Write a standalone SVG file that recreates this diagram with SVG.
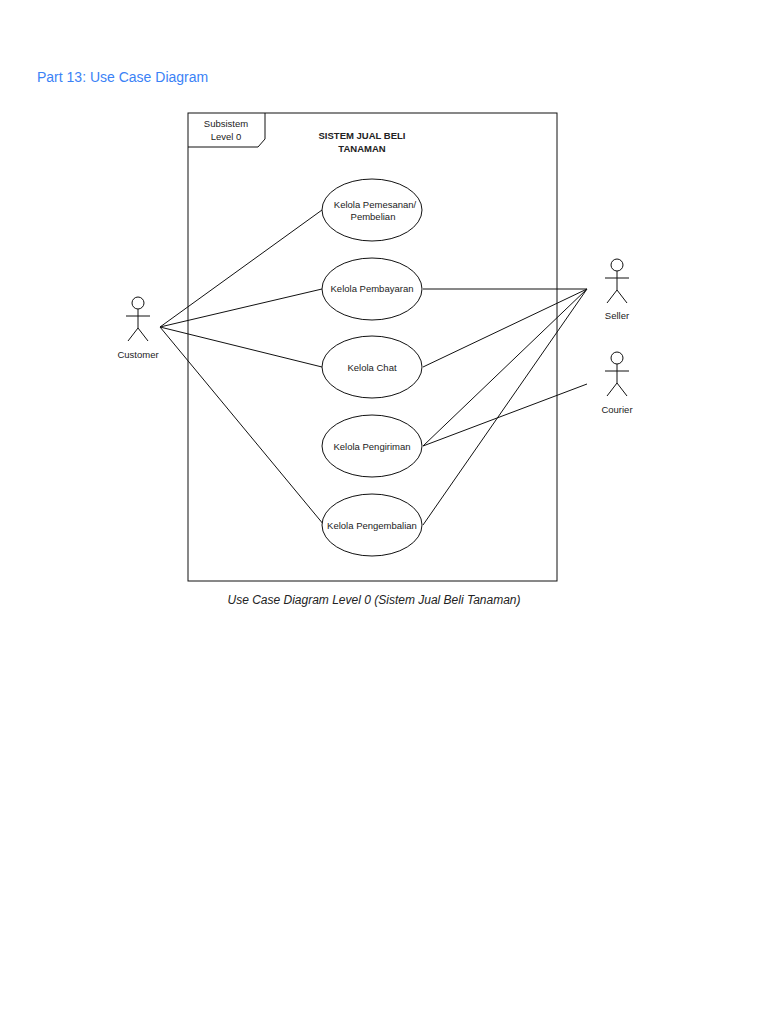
<svg xmlns="http://www.w3.org/2000/svg" width="768" height="1024" viewBox="0 0 768 1024">
<style>
text{font-family:"Liberation Sans",Arial,sans-serif;fill:#222}
.s{font-size:9.5px}
.ln{stroke:#111;stroke-width:1;fill:none}
.uc{fill:#fff;stroke:#111;stroke-width:1}
</style>
<rect width="768" height="1024" fill="#fff"/>
<text x="37" y="82" style="font-size:14px;fill:#3b82f6">Part 13: Use Case Diagram</text>
<g id="system">
<rect x="188" y="113" width="369" height="468" class="ln"/>
<path d="M188 147 H258 L265 139 V113" class="ln"/>
<text x="226" y="127" text-anchor="middle" class="s">Subsistem</text>
<text x="226" y="140" text-anchor="middle" class="s">Level 0</text>
<text x="362" y="139" text-anchor="middle" class="s" font-weight="bold">SISTEM JUAL BELI</text>
<text x="362" y="152" text-anchor="middle" class="s" font-weight="bold">TANAMAN</text>
</g>
<g id="connectors" class="ln">
<line x1="160" y1="327" x2="322" y2="210"/>
<line x1="160" y1="327" x2="322" y2="289"/>
<line x1="160" y1="327" x2="322" y2="367"/>
<line x1="160" y1="327" x2="324" y2="525"/>
<line x1="587" y1="289" x2="423" y2="289"/>
<line x1="587" y1="289" x2="423" y2="367"/>
<line x1="587" y1="289" x2="423" y2="446"/>
<line x1="587" y1="289" x2="423" y2="525"/>
<line x1="587" y1="384" x2="423" y2="446"/>
</g>
<g id="uc1"><ellipse cx="372" cy="210" rx="50" ry="31" class="uc"/><text x="375" y="208" text-anchor="middle" class="s">Kelola Pemesanan/</text><text x="373" y="220" text-anchor="middle" class="s">Pembelian</text></g>
<g id="uc2"><ellipse cx="372" cy="289" rx="50" ry="31" class="uc"/><text x="372" y="292" text-anchor="middle" class="s">Kelola Pembayaran</text></g>
<g id="uc3"><ellipse cx="372" cy="367" rx="50" ry="31" class="uc"/><text x="372" y="371" text-anchor="middle" class="s">Kelola Chat</text></g>
<g id="uc4"><ellipse cx="372" cy="446" rx="50" ry="31" class="uc"/><text x="372" y="450" text-anchor="middle" class="s">Kelola Pengiriman</text></g>
<g id="uc5"><ellipse cx="372" cy="525" rx="50" ry="31" class="uc"/><text x="372" y="529" text-anchor="middle" class="s">Kelola Pengembalian</text></g>
<g id="customer" class="ln"><circle cx="138" cy="303" r="6"/><path d="M138 309 V328 M126 316 H150 M138 328 L128 341 M138 328 L148 341"/><text x="138" y="358" text-anchor="middle" class="s" stroke="none">Customer</text></g>
<g id="seller" class="ln"><circle cx="617" cy="265" r="6"/><path d="M617 271 V290 M605 278 H629 M617 290 L607 303 M617 290 L627 303"/><text x="617" y="319" text-anchor="middle" class="s" stroke="none">Seller</text></g>
<g id="courier" class="ln"><circle cx="617" cy="358" r="6"/><path d="M617 364 V383 M605 371 H629 M617 383 L607 396 M617 383 L627 396"/><text x="617" y="413" text-anchor="middle" class="s" stroke="none">Courier</text></g>
<text x="374" y="604" text-anchor="middle" style="font-size:12px;font-style:italic">Use Case Diagram Level 0 (Sistem Jual Beli Tanaman)</text>
</svg>
